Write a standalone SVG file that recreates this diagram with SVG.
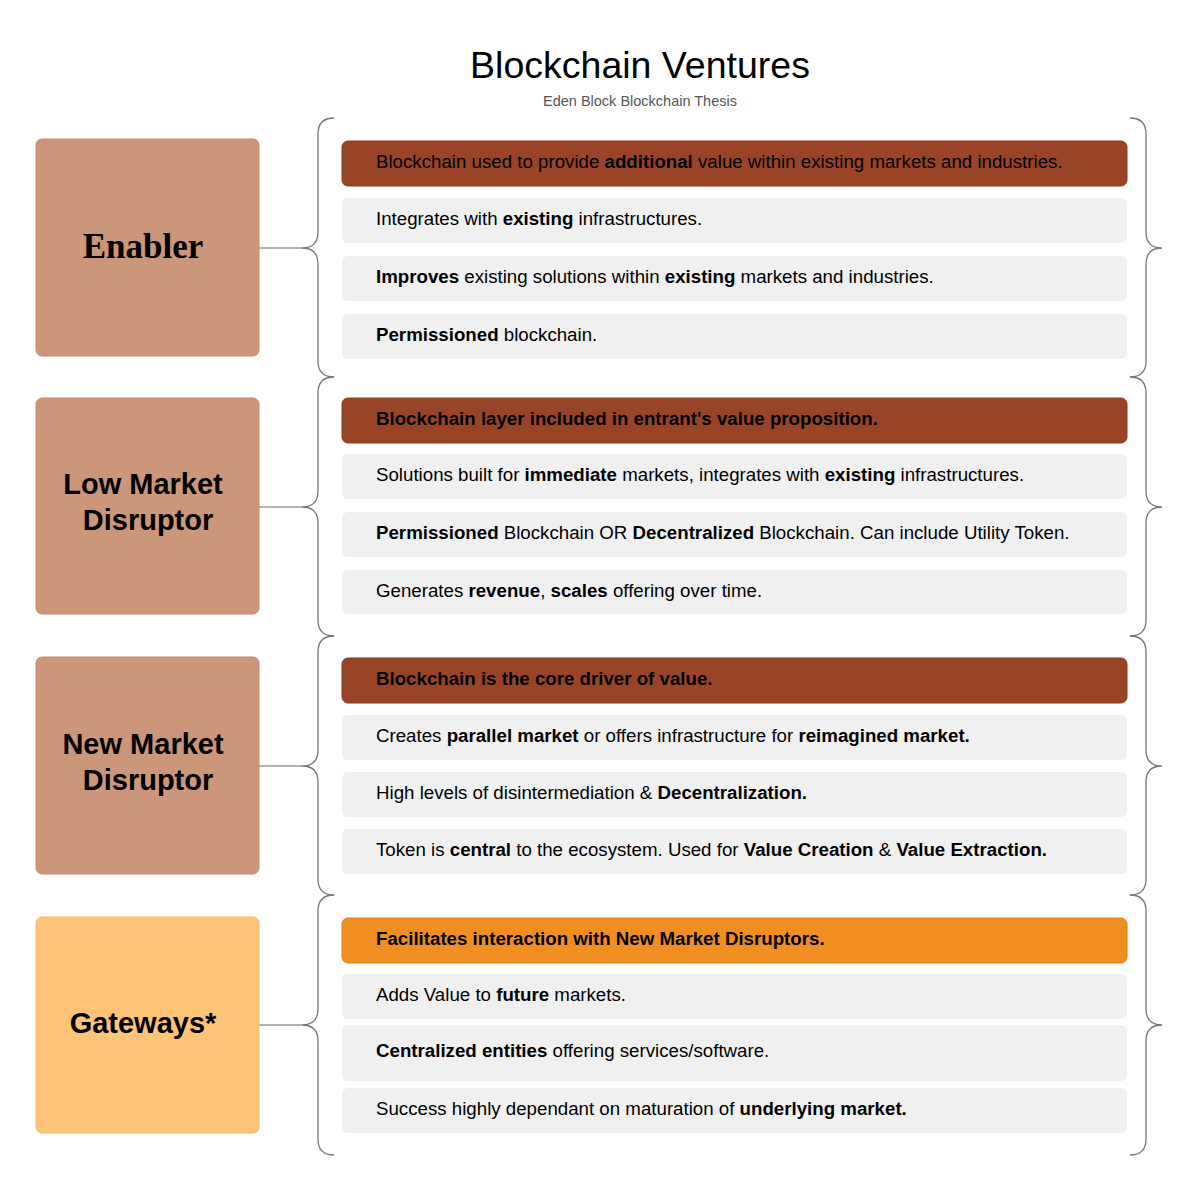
<svg xmlns="http://www.w3.org/2000/svg" width="1200" height="1191" viewBox="0 0 1200 1191">
<style>
text{font-family:"Liberation Sans",Arial,sans-serif;fill:#000}
.t{font-size:18.7px}
.b{font-weight:bold}
.lab{font-size:29px;font-weight:bold;text-anchor:middle}
.cat{fill:#cc967b;stroke:#c58b70}
.gw{fill:#fdc477;stroke:#f6b863}
.row{fill:#f0f0f0}
.hd{fill:#994427;stroke:#8a3a1f}
.ho{fill:#f18e22;stroke:#e07f14}
.br{fill:none;stroke:#777;stroke-width:1.3}
.cn{fill:none;stroke:#999;stroke-width:1.3}
</style>
<rect width="1200" height="1191" fill="#fff"/>
<text x="640" y="78" font-size="37.5" text-anchor="middle">Blockchain Ventures</text>
<text x="640" y="106" font-size="14.5" style="fill:#555" text-anchor="middle">Eden Block Blockchain Thesis</text>
<g id="connectors">
<path class="cn" d="M259 248H302M259 507H302M259 766H302M259 1025H302"/>
<path class="br" d="M334 118Q318 118 318 134V232Q318 248 302 248Q318 248 318 264V361Q318 377 334 377"/>
<path class="br" d="M334 377Q318 377 318 393V491Q318 507 302 507Q318 507 318 523V620Q318 636 334 636"/>
<path class="br" d="M334 636Q318 636 318 652V750Q318 766 302 766Q318 766 318 782V879Q318 895 334 895"/>
<path class="br" d="M334 895Q318 895 318 911V1009Q318 1025 302 1025Q318 1025 318 1041V1139Q318 1155 334 1155"/>
<path class="br" d="M1130 118Q1146 118 1146 134V232Q1146 248 1162 248Q1146 248 1146 264V361Q1146 377 1130 377"/>
<path class="br" d="M1130 377Q1146 377 1146 393V491Q1146 507 1162 507Q1146 507 1146 523V620Q1146 636 1130 636"/>
<path class="br" d="M1130 636Q1146 636 1146 652V750Q1146 766 1162 766Q1146 766 1146 782V879Q1146 895 1130 895"/>
<path class="br" d="M1130 895Q1146 895 1146 911V1009Q1146 1025 1162 1025Q1146 1025 1146 1041V1139Q1146 1155 1130 1155"/>
</g>
<g id="enabler"><rect class="cat" x="36" y="139" width="223" height="217" rx="6"/><text x="143" y="258" font-size="35" font-weight="bold" text-anchor="middle" style='font-family:"Liberation Serif","DejaVu Serif",serif'>Enabler</text></g>
<g id="low"><rect class="cat" x="36" y="398" width="223" height="216" rx="6"/><text class="lab" y="494"><tspan x="143">Low Market</tspan><tspan x="148" dy="36">Disruptor</tspan></text></g>
<g id="new"><rect class="cat" x="36" y="657" width="223" height="217" rx="6"/><text class="lab" y="754"><tspan x="143">New Market</tspan><tspan x="148" dy="36">Disruptor</tspan></text></g>
<g id="gateways"><rect class="gw" x="36" y="917" width="223" height="216" rx="6"/><text class="lab" x="143" y="1033">Gateways*</text></g>

<g id="e1"><rect class="hd" x="342" y="141" width="785" height="45" rx="6"/><text class="t" x="376" y="168">Blockchain used to provide <tspan class="b">additional</tspan> value within existing markets and industries.</text></g>
<g id="e2"><rect class="row" x="342" y="198" width="785" height="45" rx="6"/><text class="t" x="376" y="225">Integrates with <tspan class="b">existing</tspan> infrastructures.</text></g>
<g id="e3"><rect class="row" x="342" y="256" width="785" height="45" rx="6"/><text class="t" x="376" y="283"><tspan class="b">Improves</tspan> existing solutions within <tspan class="b">existing</tspan> markets and industries.</text></g>
<g id="e4"><rect class="row" x="342" y="314" width="785" height="45" rx="6"/><text class="t" x="376" y="341"><tspan class="b">Permissioned</tspan> blockchain.</text></g>

<g id="l1"><rect class="hd" x="342" y="398" width="785" height="45" rx="6"/><text class="t b" x="376" y="425">Blockchain layer included in entrant's value proposition.</text></g>
<g id="l2"><rect class="row" x="342" y="454" width="785" height="45" rx="6"/><text class="t" x="376" y="481">Solutions built for <tspan class="b">immediate</tspan> markets, integrates with <tspan class="b">existing</tspan> infrastructures.</text></g>
<g id="l3"><rect class="row" x="342" y="512" width="785" height="45" rx="6"/><text class="t" x="376" y="539"><tspan class="b">Permissioned</tspan> Blockchain OR <tspan class="b">Decentralized</tspan> Blockchain. Can include Utility Token.</text></g>
<g id="l4"><rect class="row" x="342" y="570" width="785" height="44" rx="6"/><text class="t" x="376" y="597">Generates <tspan class="b">revenue</tspan>, <tspan class="b">scales</tspan> offering over time.</text></g>

<g id="n1"><rect class="hd" x="342" y="658" width="785" height="45" rx="6"/><text class="t b" x="376" y="685">Blockchain is the core driver of value.</text></g>
<g id="n2"><rect class="row" x="342" y="715" width="785" height="45" rx="6"/><text class="t" x="376" y="742">Creates <tspan class="b">parallel market</tspan> or offers infrastructure for <tspan class="b">reimagined market.</tspan></text></g>
<g id="n3"><rect class="row" x="342" y="772" width="785" height="45" rx="6"/><text class="t" x="376" y="799">High levels of disintermediation &amp; <tspan class="b">Decentralization.</tspan></text></g>
<g id="n4"><rect class="row" x="342" y="829" width="785" height="45" rx="6"/><text class="t" x="376" y="856">Token is <tspan class="b">central</tspan> to the ecosystem. Used for <tspan class="b">Value Creation</tspan> &amp; <tspan class="b">Value Extraction.</tspan></text></g>

<g id="g1"><rect class="ho" x="342" y="918" width="785" height="45" rx="6"/><text class="t b" x="376" y="945">Facilitates interaction with New Market Disruptors.</text></g>
<g id="g2"><rect class="row" x="342" y="974" width="785" height="45" rx="6"/><text class="t" x="376" y="1001">Adds Value to <tspan class="b">future</tspan> markets.</text></g>
<g id="g3"><rect class="row" x="342" y="1025" width="785" height="56" rx="6"/><text class="t" x="376" y="1057"><tspan class="b">Centralized entities</tspan> offering services/software.</text></g>
<g id="g4"><rect class="row" x="342" y="1088" width="785" height="45" rx="6"/><text class="t" x="376" y="1115">Success highly dependant on maturation of <tspan class="b">underlying market.</tspan></text></g>
</svg>
